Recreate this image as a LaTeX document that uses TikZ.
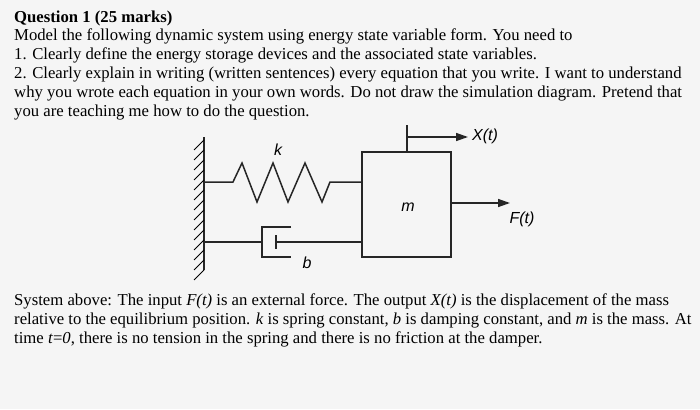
\documentclass[tikz,border=0pt]{standalone}
\usetikzlibrary{arrows.meta}
\usepackage{fontspec}
\setmainfont{Liberation Serif}
\newfontfamily\arialf{Liberation Sans}
\begin{document}
\begin{tikzpicture}[x=1pt,y=-1pt,
  txt/.style={anchor=base west,inner sep=0pt,font=\fontsize{16.7}{18}\selectfont},
  lbl/.style={inner sep=0pt,font=\arialf\itshape\fontsize{16}{18}\selectfont},
  ln/.style={line width=1.5pt,draw=black!85},
  arr/.style={ln,-{Triangle[length=12pt,width=8pt]}}]
\fill[gray!8] (0,0) rectangle (700,409);
\useasboundingbox (0,0) rectangle (700,409);
\node[txt] (t0) at (14,23) {\textbf{Question 1 (25 marks)}};
\node[txt] (t1) at (14,41) {Model the following dynamic system using energy state variable form. You need to};
\node[txt] (t2) at (14,60) {1. Clearly define the energy storage devices and the associated state variables.};
\node[txt] (t3) at (14,79) {2. Clearly explain in writing (written sentences) every equation that you write. I want to understand};
\node[txt] (t4) at (14,98) {why you wrote each equation in your own words. Do not draw the simulation diagram. Pretend that};
\node[txt] (t5) at (14,117) {you are teaching me how to do the question.};
\node[txt] (s1) at (14,305) {System above: The input \textit{F(t)} is an external force. The output \textit{X(t)} is the displacement of the mass};
\node[txt] (s2) at (14,324) {relative to the equilibrium position. \textit{k} is spring constant, \textit{b} is damping constant, and \textit{m} is the mass. At};
\node[txt] (s3) at (14,343) {time \textit{t}=\textit{0}, there is no tension in the spring and there is no friction at the damper.};
% wall
\draw[ln] (204,137) -- (204,270);
\foreach \yy in {140,150,...,270} \draw[line width=1pt] (204,\yy) -- (194,\yy+10);
% mass
\node[draw,ln,minimum width=89pt,minimum height=105pt,inner sep=0pt] (m) at (406.5,204.5) {};
\node[lbl] (ml) at (408,207) {m};
% spring
\coordinate (w1) at (204,182);
\draw[ln,line join=miter] (w1) -- (233,182) -- (242,163) -- (257,202) -- (273,163) -- (288,202) -- (305,163) -- (322,202) -- (330,182) -- (362,182);
\node[lbl] (k) at (278,150) {k};
% damper
\coordinate (w2) at (204,242);
\draw[ln] (w2) -- (262,242);
\draw[ln] (291,227) -- (262,227) -- (262,257) -- (291,257);
\draw[ln] (276,235) -- (276,249);
\draw[ln] (276,242) -- (362,242);
\node[lbl] (b) at (307,263) {b};
% F(t)
\coordinate (fe) at (510,203);
\draw[arr] (451,203) -- (fe);
\node[lbl] (f) at (522,219) {F(t)};
% X(t)
\coordinate (xs) at (407,137);
\coordinate (xe) at (468,137);
\draw[ln] (407,125) -- (407,152);
\draw[arr] (xs) -- (xe);
\node[lbl,anchor=west] (x) at (472,136) {X(t)};
\end{tikzpicture}
\end{document}
